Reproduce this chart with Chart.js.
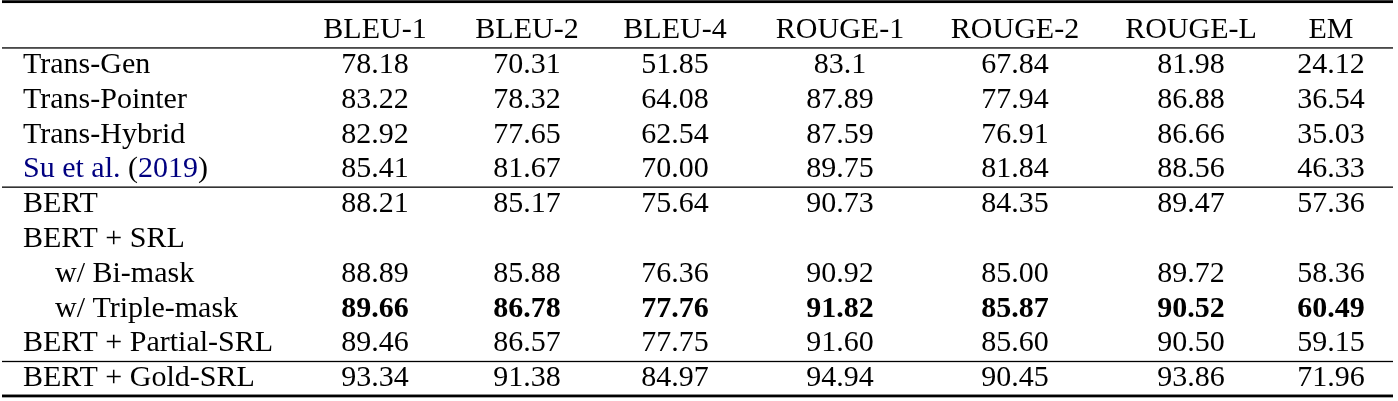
<!DOCTYPE html>
<html>
<head>
<meta charset="utf-8">
<script src="https://cdn.jsdelivr.net/npm/chart.js@4.4.0/dist/chart.umd.min.js"></script>
<style>
html, body { margin: 0; padding: 0; background: #fff; }
#wrap { width: 1398px; height: 401px; position: relative; }
</style>
</head>
<body>
<div id="wrap"><canvas id="tableChart"></canvas></div>
<script>
// table content
const methods = ["Trans-Gen", "Trans-Pointer", "Trans-Hybrid", "Su et al. (2019)", "BERT",
    "BERT + SRL", "w/ Bi-mask", "w/ Triple-mask", "BERT + Partial-SRL", "BERT + Gold-SRL"];
const metrics = ["BLEU-1", "BLEU-2", "BLEU-4", "ROUGE-1", "ROUGE-2", "ROUGE-L", "EM"];

const bleu1  = ["78.18", "83.22", "82.92", "85.41", "88.21", null, "88.89", "89.66", "89.46", "93.34"];
const bleu2  = ["70.31", "78.32", "77.65", "81.67", "85.17", null, "85.88", "86.78", "86.57", "91.38"];
const bleu4  = ["51.85", "64.08", "62.54", "70.00", "75.64", null, "76.36", "77.76", "77.75", "84.97"];
const rouge1 = ["83.1",  "87.89", "87.59", "89.75", "90.73", null, "90.92", "91.82", "91.60", "94.94"];
const rouge2 = ["67.84", "77.94", "76.91", "81.84", "84.35", null, "85.00", "85.87", "85.60", "90.45"];
const rougeL = ["81.98", "86.88", "86.66", "88.56", "89.47", null, "89.72", "90.52", "90.50", "93.86"];
const em     = ["24.12", "36.54", "35.03", "46.33", "57.36", null, "58.36", "60.49", "59.15", "71.96"];

// layout (x in pixels of the original, y in row index)
const colCenters = [375, 527, 675, 840, 1015, 1191, 1331];
const nameLeft = 23;
const indentLeft = 55;
const indentRows = [6, 7];
const boldRow = 7;
const citeRow = 3;
const ruleLeft = 2;
const ruleRight = 1393;
const rules = [
    { at: -2.05, w: 2.8 },
    { at: -0.72, w: 1.3 },
    { at: 3.28, w: 1.3 },
    { at: 8.29, w: 1.3 },
    { at: 9.28, w: 2.8 }
];
const fontFamily = "'Liberation Serif', 'Times New Roman', serif";
const fontSize = 30;
const citeColor = "#000080";

function buildDatasets(){
    let columns = [bleu1, bleu2, bleu4, rouge1, rouge2, rougeL, em];
    let sets = [];

    sets.push({
        label: "header",
        data: metrics.map((m, j) => ({ x: colCenters[j], y: -1, text: m, align: "center" }))
    });

    sets.push({
        label: "methods",
        data: methods.map((m, i) => ({
            x: indentRows.includes(i) ? indentLeft : nameLeft,
            y: i, text: m, align: "left"
        }))
    });

    columns.forEach((col, j) => {
        let pts = [];
        col.forEach((v, i) => {
            if(v !== null){
                pts.push({ x: colCenters[j], y: i, text: v, align: "center" });
            }
        });
        sets.push({ label: metrics[j], data: pts });
    });

    return sets;
}

function drawCite(ctx, x, y){
    // "Su et al. (2019)" with the cited parts in link colour
    let parts = [
        ["Su et al.", citeColor], [" (", "#000"], ["2019", citeColor], [")", "#000"]
    ];
    ctx.textAlign = "left";
    parts.forEach(p => {
        ctx.fillStyle = p[1];
        ctx.fillText(p[0], x, y);
        x += ctx.measureText(p[0]).width;
    });
}

const tableText = {
    id: "tableText",
    afterDatasetsDraw(chart){
        const ctx = chart.ctx;
        const xs = chart.scales.x;
        const ys = chart.scales.y;
        ctx.save();

        ctx.fillStyle = "#000";
        rules.forEach(r => {
            let y = ys.getPixelForValue(r.at);
            let x0 = xs.getPixelForValue(ruleLeft);
            let x1 = xs.getPixelForValue(ruleRight);
            ctx.fillRect(x0, y - r.w / 2, x1 - x0, r.w);
        });

        ctx.textBaseline = "alphabetic";
        chart.data.datasets.forEach((ds, d) => {
            const meta = chart.getDatasetMeta(d);
            meta.data.forEach((pt, k) => {
                const raw = ds.data[k];
                const bold = raw.y === boldRow && ds.label !== "methods" && ds.label !== "header";
                ctx.font = (bold ? "bold " : "") + fontSize + "px " + fontFamily;
                if(ds.label === "methods" && raw.y === citeRow){
                    drawCite(ctx, pt.x, pt.y);
                    return;
                }
                ctx.fillStyle = "#000";
                ctx.textAlign = raw.align;
                ctx.fillText(raw.text, pt.x, pt.y);
            });
        });

        ctx.restore();
    }
};

const pitch = 34.8;
const firstBaseline = 73;

new Chart("tableChart", {
    type: "scatter",
    data: { datasets: buildDatasets() },
    options: {
        responsive: true,
        maintainAspectRatio: false,
        animation: false,
        events: [],
        layout: { padding: 0 },
        elements: { point: { radius: 0, hoverRadius: 0 } },
        scales: {
            x: { type: "linear", display: false, min: 0, max: 1398 },
            y: {
                type: "linear", display: false, reverse: true,
                min: -firstBaseline / pitch,
                max: (401 - firstBaseline) / pitch
            }
        },
        plugins: {
            legend: { display: false },
            tooltip: { enabled: false },
            title: { display: false }
        }
    },
    plugins: [tableText]
});
</script>
</body>
</html>
